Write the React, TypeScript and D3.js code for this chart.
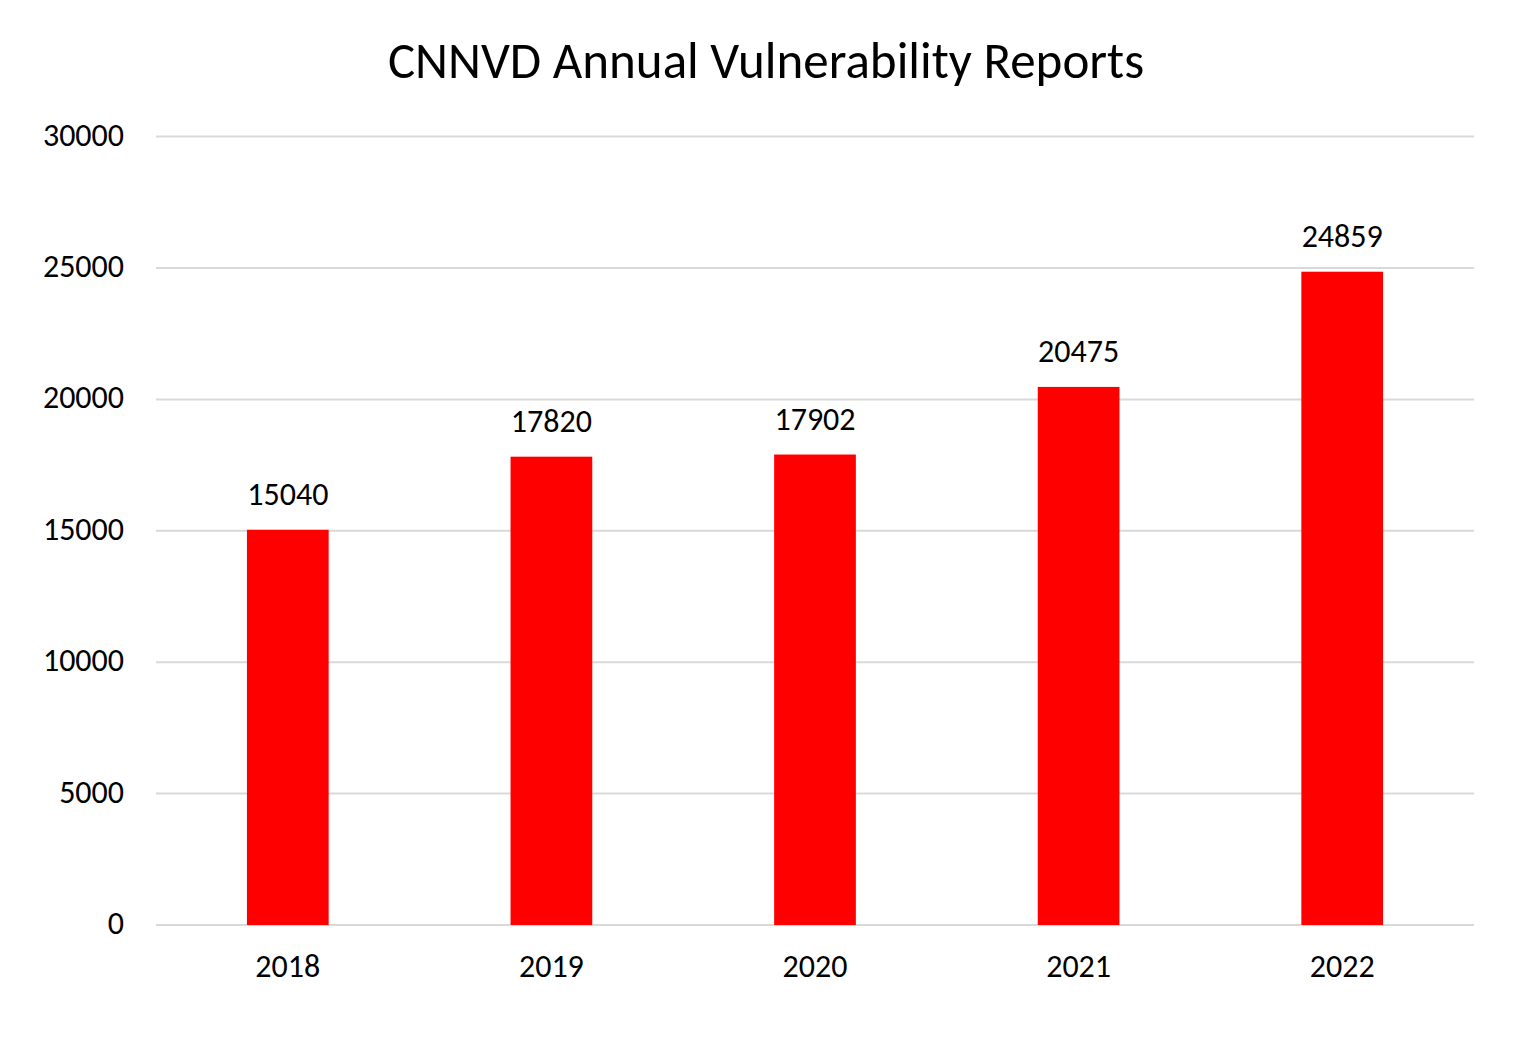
import React, { useEffect, useRef } from 'react';
import * as d3 from 'd3';

const WIDTH = 1536;
const HEIGHT = 1045;

const years = ['2018', '2019', '2020', '2021', '2022'];
const reports = [15040, 17820, 17902, 20475, 24859];
const yTicks = [0, 5000, 10000, 15000, 20000, 25000, 30000];

const TITLE = 'CNNVD Annual Vulnerability Reports';
const FONT = 'Carlito, Calibri, Lato, sans-serif';

const margin = { top: 136.6, right: 62, bottom: 120, left: 156 };

const App = () => {
  const svgRef = useRef<SVGSVGElement>(null);

  useEffect(() => {
    const svg = d3.select(svgRef.current);
    svg.selectAll('*').remove();

    const x = d3.scaleBand()
      .domain(years)
      .range([margin.left, WIDTH - margin.right])
      .paddingInner(0.69)
      .paddingOuter(0.345);

    const y = d3.scaleLinear()
      .domain([0, 30000])
      .range([HEIGHT - margin.bottom, margin.top]);

    svg.append('rect')
      .attr('width', WIDTH)
      .attr('height', HEIGHT)
      .attr('fill', '#ffffff');

    // title
    svg.append('text')
      .attr('x', 766)
      .attr('y', 78)
      .attr('text-anchor', 'middle')
      .style('font', `51px ${FONT}`)
      .attr('fill', '#000')
      .text(TITLE);

    // gridlines
    svg.append('g')
      .selectAll('line')
      .data(yTicks)
      .join('line')
        .attr('x1', margin.left)
        .attr('x2', WIDTH - margin.right)
        .attr('y1', d => y(d))
        .attr('y2', d => y(d))
        .attr('stroke', '#d9d9d9')
        .attr('stroke-width', 2);

    // y tick labels
    svg.append('g')
      .selectAll('text')
      .data(yTicks)
      .join('text')
        .attr('x', 124)
        .attr('y', d => y(d) + 9)
        .attr('text-anchor', 'end')
        .style('font', `32px ${FONT}`)
        .attr('fill', '#000')
        .text(d => String(d));

    // bars
    svg.append('g')
      .selectAll('rect')
      .data(reports)
      .join('rect')
        .attr('x', (d, i) => x(years[i]))
        .attr('y', d => y(d))
        .attr('width', x.bandwidth())
        .attr('height', d => y(0) - y(d))
        .attr('fill', '#ff0000');

    // value labels
    svg.append('g')
      .selectAll('text')
      .data(reports)
      .join('text')
        .attr('x', (d, i) => x(years[i]) + x.bandwidth() / 2)
        .attr('y', d => y(d) - 25)
        .attr('text-anchor', 'middle')
        .style('font', `32px ${FONT}`)
        .attr('fill', '#000')
        .text(d => String(d));

    // x labels
    svg.append('g')
      .selectAll('text')
      .data(years)
      .join('text')
        .attr('x', d => x(d) + x.bandwidth() / 2)
        .attr('y', 977)
        .attr('text-anchor', 'middle')
        .style('font', `32px ${FONT}`)
        .attr('fill', '#000')
        .text(d => d);
  }, []);

  return (
    <svg
      ref={svgRef}
      width={WIDTH}
      height={HEIGHT}
      style={{ position: 'absolute', left: 0, top: 0, display: 'block' }}
    />
  );
};

export default App;
